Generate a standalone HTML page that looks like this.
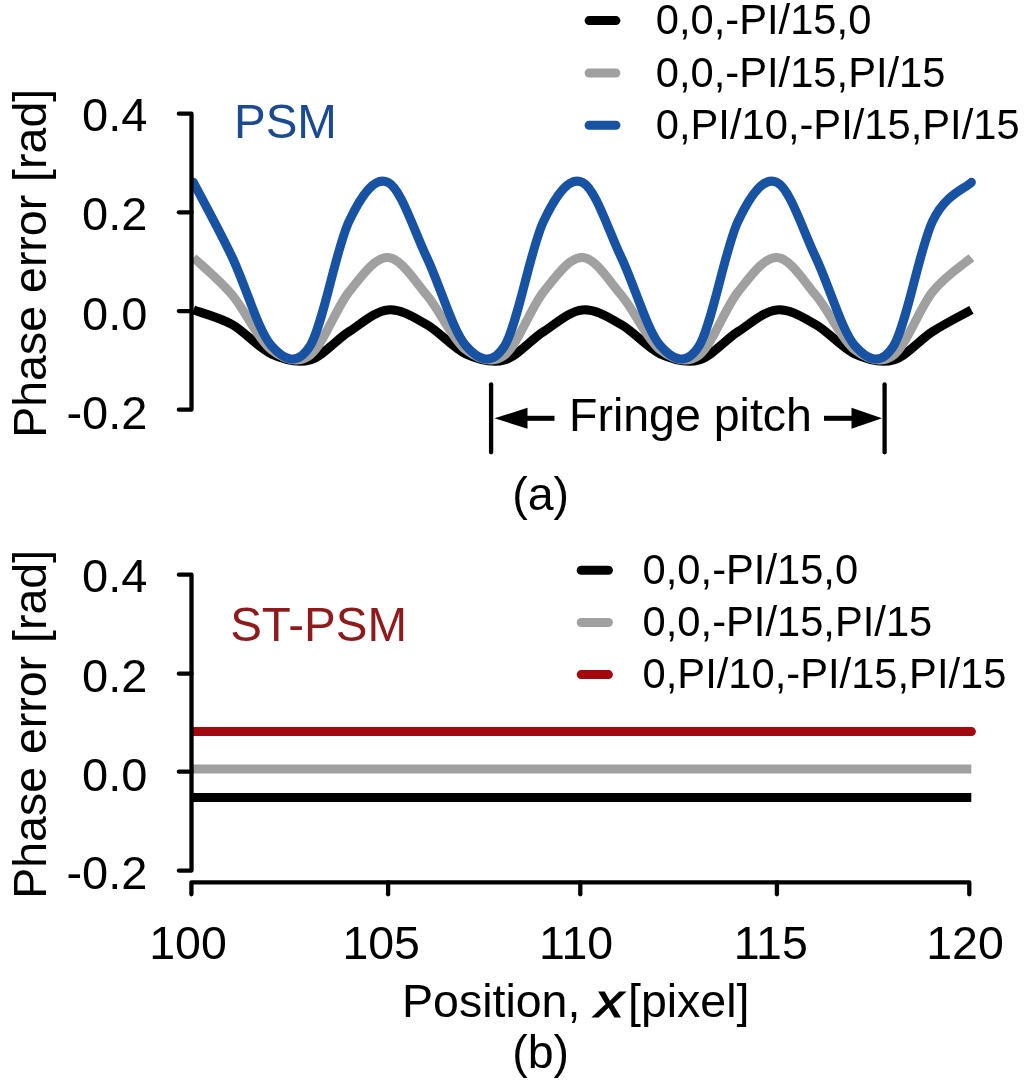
<!DOCTYPE html>
<html><head><meta charset="utf-8"><style>
html,body{margin:0;padding:0;background:#fff;width:1029px;height:1088px;overflow:hidden;font-family:"Liberation Sans", sans-serif;}
</style></head><body>
<svg width="1029" height="1088" viewBox="0 0 1029 1088" style="position:absolute;left:0;top:0;filter:blur(0.45px)"><rect width="100%" height="100%" fill="#fff"/><defs><clipPath id="c"><rect x="190" y="0" width="839" height="1088"/></clipPath></defs><g clip-path="url(#c)"><path d="M193.40,309.90 C199.88,312.35 219.33,317.29 232.30,324.61 C245.27,331.93 258.23,347.95 271.20,353.82 C284.17,359.70 297.13,363.56 310.10,359.86 C323.07,356.16 336.03,339.97 349.00,331.64 C361.97,323.31 374.93,311.07 387.90,309.90 C400.87,308.73 413.83,317.29 426.80,324.61 C439.77,331.93 452.73,347.95 465.70,353.82 C478.67,359.70 491.63,363.56 504.60,359.86 C517.57,356.16 530.53,339.97 543.50,331.64 C556.47,323.31 569.43,311.07 582.40,309.90 C595.37,308.73 608.33,317.29 621.30,324.61 C634.27,331.93 647.23,347.95 660.20,353.82 C673.17,359.70 686.13,363.56 699.10,359.86 C712.07,356.16 725.03,339.97 738.00,331.64 C750.97,323.31 763.93,311.07 776.90,309.90 C789.87,308.73 802.83,317.29 815.80,324.61 C828.77,331.93 841.73,347.95 854.70,353.82 C867.67,359.70 880.63,363.56 893.60,359.86 C906.57,356.16 919.53,339.97 932.50,331.64 C945.47,323.31 964.92,313.52 971.40,309.90" fill="none" stroke="#000000" stroke-width="9.0" stroke-linejoin="round" stroke-linecap="butt"/><path d="M193.40,257.62 C199.88,263.88 219.33,279.80 232.30,295.16 C245.27,310.53 258.23,339.82 271.20,349.79 C284.17,359.77 297.13,364.67 310.10,355.02 C323.07,345.37 336.03,308.13 349.00,291.89 C361.97,275.66 374.93,257.08 387.90,257.62 C400.87,258.17 413.83,279.80 426.80,295.16 C439.77,310.53 452.73,339.82 465.70,349.79 C478.67,359.77 491.63,364.67 504.60,355.02 C517.57,345.37 530.53,308.13 543.50,291.89 C556.47,275.66 569.43,257.08 582.40,257.62 C595.37,258.17 608.33,279.80 621.30,295.16 C634.27,310.53 647.23,339.82 660.20,349.79 C673.17,359.77 686.13,364.67 699.10,355.02 C712.07,345.37 725.03,308.13 738.00,291.89 C750.97,275.66 763.93,257.08 776.90,257.62 C789.87,258.17 802.83,279.80 815.80,295.16 C828.77,310.53 841.73,339.82 854.70,349.79 C867.67,359.77 880.63,364.67 893.60,355.02 C906.57,345.37 919.53,308.13 932.50,291.89 C945.47,275.66 964.92,263.34 971.40,257.62" fill="none" stroke="#a0a0a0" stroke-width="9.0" stroke-linejoin="round" stroke-linecap="butt"/><path d="M193.40,182.30 C199.88,194.83 219.33,230.25 232.30,257.44 C245.27,284.63 258.23,330.69 271.20,345.43 C284.17,360.18 297.13,366.58 310.10,345.90 C323.07,325.22 336.03,248.62 349.00,221.36 C361.97,194.09 374.93,176.29 387.90,182.30 C400.87,188.32 413.83,230.25 426.80,257.44 C439.77,284.63 452.73,330.69 465.70,345.43 C478.67,360.18 491.63,366.58 504.60,345.90 C517.57,325.22 530.53,248.62 543.50,221.36 C556.47,194.09 569.43,176.29 582.40,182.30 C595.37,188.32 608.33,230.25 621.30,257.44 C634.27,284.63 647.23,330.69 660.20,345.43 C673.17,360.18 686.13,366.58 699.10,345.90 C712.07,325.22 725.03,248.62 738.00,221.36 C750.97,194.09 763.93,176.29 776.90,182.30 C789.87,188.32 802.83,230.25 815.80,257.44 C828.77,284.63 841.73,330.69 854.70,345.43 C867.67,360.18 880.63,366.58 893.60,345.90 C906.57,325.22 919.53,248.62 932.50,221.36 C945.47,194.09 964.92,188.81 971.40,182.30" fill="none" stroke="#1853a3" stroke-width="9.0" stroke-linejoin="round" stroke-linecap="round"/><path d="M191.5,797.5 L971.3,797.5" stroke="#000" stroke-width="9.0"/><path d="M191.5,769.0 L971.3,769.0" stroke="#a0a0a0" stroke-width="9.0"/><path d="M191.5,731.6 L971.4,731.6" stroke="#a2080e" stroke-width="9.0" stroke-linecap="round"/></g><path d="M178.85,113.7 L191.5,113.7 L191.5,409.7 L178.85,409.7" fill="none" stroke="#000" stroke-width="4.3" stroke-linejoin="round" stroke-linecap="round"/><path d="M178.85,212.3 L191.5,212.3" stroke="#000" stroke-width="4.3" stroke-linecap="round"/><path d="M178.85,311.1 L191.5,311.1" stroke="#000" stroke-width="4.3" stroke-linecap="round"/><path d="M178.85,574.7 L191.5,574.7 L191.5,870.6 L178.85,870.6" fill="none" stroke="#000" stroke-width="4.3" stroke-linejoin="round" stroke-linecap="round"/><path d="M178.85,673.7 L191.5,673.7" stroke="#000" stroke-width="4.3" stroke-linecap="round"/><path d="M178.85,771.7 L191.5,771.7" stroke="#000" stroke-width="4.3" stroke-linecap="round"/><path d="M191.4,894.25 L191.4,882.3 L969.3,882.3 L969.3,894.25" fill="none" stroke="#000" stroke-width="4.3" stroke-linejoin="round" stroke-linecap="round"/><path d="M388.1,882.3 L388.1,894.25" stroke="#000" stroke-width="4.3" stroke-linecap="round"/><path d="M580.3,882.3 L580.3,894.25" stroke="#000" stroke-width="4.3" stroke-linecap="round"/><path d="M776.9,882.3 L776.9,894.25" stroke="#000" stroke-width="4.3" stroke-linecap="round"/><g font-family='"Liberation Sans", sans-serif' fill="#000"><path d="M589.0999999999999,20.6 L615.9000000000001,20.6" stroke="#000" stroke-width="9.0" stroke-linecap="round"/><text x="655.8" y="34.400000000000006" font-size="41.7">0,0,-PI/15,0</text><path d="M589.0999999999999,73.0 L615.9000000000001,73.0" stroke="#a0a0a0" stroke-width="9.0" stroke-linecap="round"/><text x="655.8" y="86.8" font-size="41.7">0,0,-PI/15,PI/15</text><path d="M589.0999999999999,125.3 L615.9000000000001,125.3" stroke="#1853a3" stroke-width="9.0" stroke-linecap="round"/><text x="655.8" y="139.1" font-size="41.7">0,PI/10,-PI/15,PI/15</text><path d="M581.1999999999999,570.2 L608.4000000000001,570.2" stroke="#000" stroke-width="9.0" stroke-linecap="round"/><text x="642.6" y="584.0" font-size="41.7">0,0,-PI/15,0</text><path d="M581.1999999999999,622.5 L608.4000000000001,622.5" stroke="#a0a0a0" stroke-width="9.0" stroke-linecap="round"/><text x="642.6" y="636.3" font-size="41.7">0,0,-PI/15,PI/15</text><path d="M581.1999999999999,674.6 L608.4000000000001,674.6" stroke="#a2080e" stroke-width="9.0" stroke-linecap="round"/><text x="642.6" y="688.4" font-size="41.7">0,PI/10,-PI/15,PI/15</text><text x="147.4" y="131.0" font-size="47" text-anchor="end">0.4</text><text x="147.4" y="230.4" font-size="47" text-anchor="end">0.2</text><text x="147.4" y="329.7" font-size="47" text-anchor="end">0.0</text><text x="147.4" y="429.0" font-size="47" text-anchor="end">-0.2</text><text x="147.4" y="591.6" font-size="47" text-anchor="end">0.4</text><text x="147.4" y="691.6" font-size="47" text-anchor="end">0.2</text><text x="147.4" y="790.8" font-size="47" text-anchor="end">0.0</text><text x="147.4" y="889.4" font-size="47" text-anchor="end">-0.2</text><text x="188.0" y="959.4" font-size="46.5" text-anchor="middle">100</text><text x="381.2" y="959.4" font-size="46.5" text-anchor="middle">105</text><text x="576.1" y="959.4" font-size="46.5" text-anchor="middle">110</text><text x="770.7" y="959.4" font-size="46.5" text-anchor="middle">115</text><text x="965.0" y="959.4" font-size="46.5" text-anchor="middle">120</text><text transform="translate(46.4,263.3) rotate(-90)" font-size="46.5" text-anchor="middle">Phase error [rad]</text><text transform="translate(46.4,724.4) rotate(-90)" font-size="46.5" text-anchor="middle">Phase error [rad]</text><text x="402" y="1016.6" font-size="46.5">Position,</text><text transform="translate(595.0,1017.2) scale(1.23,1)" font-size="46.5" font-style="italic" stroke="#000" stroke-width="1.0">x</text><text x="628" y="1016.6" font-size="46.5">[pixel]</text><text x="540.7" y="1067.8" font-size="46.5" text-anchor="middle">(b)</text><text x="540.7" y="510.0" font-size="46.5" text-anchor="middle">(a)</text><text x="569" y="431.4" font-size="46.5">Fringe pitch</text><text x="234" y="137.5" font-size="47.5" fill="#1c4a92">PSM</text><text x="230.2" y="641.3" font-size="47.5" fill="#8e1a1c">ST-PSM</text></g><path d="M491.1,384.3 L491.1,452.3" stroke="#000" stroke-width="4.3" stroke-linecap="round"/><path d="M884.6,384.3 L884.6,452.3" stroke="#000" stroke-width="4.3" stroke-linecap="round"/><path d="M527,418.3 L554.5,418.3" stroke="#000" stroke-width="5"/><path d="M494.5,418.3 L527.5,407.8 L527.5,428.8 Z" fill="#000"/><path d="M824,418.3 L852.5,418.3" stroke="#000" stroke-width="5"/><path d="M882,418.3 L851.5,407.8 L851.5,428.8 Z" fill="#000"/></svg>
</body></html>
